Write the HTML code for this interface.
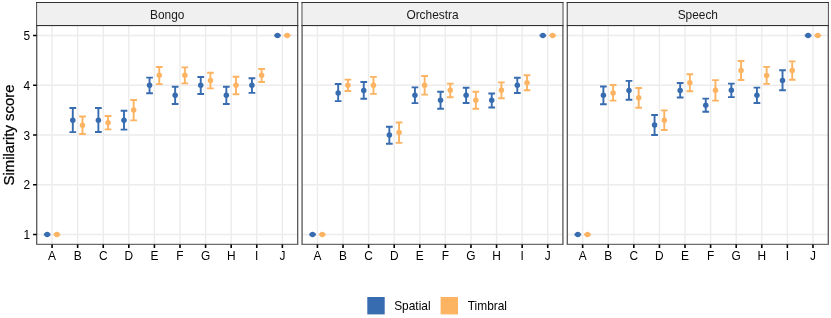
<!DOCTYPE html>
<html lang="en"><head><meta charset="utf-8"><title>Similarity score</title>
<style>html,body{margin:0;padding:0;background:#fff}body{width:831px;height:318px;overflow:hidden}svg{display:block}</style></head>
<body>
<svg width="831" height="318" viewBox="0 0 831 318" font-family="'Liberation Sans', Arial, Helvetica, sans-serif">
<rect width="831" height="318" fill="#fff"/>
<g>
<rect x="36.7" y="25.35" width="260.97" height="219.10" fill="#fff"/>
<path d="M36.7 234.55H297.67M36.7 184.80H297.67M36.7 135.05H297.67M36.7 85.30H297.67M36.7 35.55H297.67M52.05 25.35V244.45M77.64 25.35V244.45M103.23 25.35V244.45M128.82 25.35V244.45M154.41 25.35V244.45M180.00 25.35V244.45M205.59 25.35V244.45M231.18 25.35V244.45M256.77 25.35V244.45M282.36 25.35V244.45" stroke="#ECECEC" stroke-width="1.42" fill="none"/>
<path d="M43.85 234.55H50.55M43.85 234.55H50.55" stroke="#386CB0" stroke-width="1.9" fill="none"/>
<circle cx="47.20" cy="234.55" r="2.75" fill="#386CB0"/>
<path d="M53.55 234.55H60.25M53.55 234.55H60.25" stroke="#FDB462" stroke-width="1.9" fill="none"/>
<circle cx="56.90" cy="234.55" r="2.75" fill="#FDB462"/>
<path d="M69.44 107.95H76.14M69.44 132.15H76.14M72.79 107.95V132.15" stroke="#386CB0" stroke-width="1.9" fill="none"/>
<circle cx="72.79" cy="120.15" r="2.75" fill="#386CB0"/>
<path d="M79.14 116.45H85.84M79.14 134.05H85.84M82.49 116.45V134.05" stroke="#FDB462" stroke-width="1.9" fill="none"/>
<circle cx="82.49" cy="125.15" r="2.75" fill="#FDB462"/>
<path d="M95.03 108.05H101.73M95.03 131.95H101.73M98.38 108.05V131.95" stroke="#386CB0" stroke-width="1.9" fill="none"/>
<circle cx="98.38" cy="120.15" r="2.75" fill="#386CB0"/>
<path d="M104.73 116.05H111.43M104.73 129.35H111.43M108.08 116.05V129.35" stroke="#FDB462" stroke-width="1.9" fill="none"/>
<circle cx="108.08" cy="122.75" r="2.75" fill="#FDB462"/>
<path d="M120.62 110.75H127.32M120.62 129.65H127.32M123.97 110.75V129.65" stroke="#386CB0" stroke-width="1.9" fill="none"/>
<circle cx="123.97" cy="120.15" r="2.75" fill="#386CB0"/>
<path d="M130.32 99.95H137.02M130.32 120.40H137.02M133.67 99.95V120.40" stroke="#FDB462" stroke-width="1.9" fill="none"/>
<circle cx="133.67" cy="110.05" r="2.75" fill="#FDB462"/>
<path d="M146.21 77.65H152.91M146.21 93.20H152.91M149.56 77.65V93.20" stroke="#386CB0" stroke-width="1.9" fill="none"/>
<circle cx="149.56" cy="85.25" r="2.75" fill="#386CB0"/>
<path d="M155.91 66.95H162.61M155.91 84.15H162.61M159.26 66.95V84.15" stroke="#FDB462" stroke-width="1.9" fill="none"/>
<circle cx="159.26" cy="75.35" r="2.75" fill="#FDB462"/>
<path d="M171.80 86.80H178.50M171.80 103.95H178.50M175.15 86.80V103.95" stroke="#386CB0" stroke-width="1.9" fill="none"/>
<circle cx="175.15" cy="95.30" r="2.75" fill="#386CB0"/>
<path d="M181.50 67.35H188.20M181.50 83.35H188.20M184.85 67.35V83.35" stroke="#FDB462" stroke-width="1.9" fill="none"/>
<circle cx="184.85" cy="75.35" r="2.75" fill="#FDB462"/>
<path d="M197.39 77.05H204.09M197.39 93.95H204.09M200.74 77.05V93.95" stroke="#386CB0" stroke-width="1.9" fill="none"/>
<circle cx="200.74" cy="85.25" r="2.75" fill="#386CB0"/>
<path d="M207.09 72.75H213.79M207.09 88.35H213.79M210.44 72.75V88.35" stroke="#FDB462" stroke-width="1.9" fill="none"/>
<circle cx="210.44" cy="80.45" r="2.75" fill="#FDB462"/>
<path d="M222.98 86.80H229.68M222.98 103.95H229.68M226.33 86.80V103.95" stroke="#386CB0" stroke-width="1.9" fill="none"/>
<circle cx="226.33" cy="95.30" r="2.75" fill="#386CB0"/>
<path d="M232.68 76.75H239.38M232.68 94.25H239.38M236.03 76.75V94.25" stroke="#FDB462" stroke-width="1.9" fill="none"/>
<circle cx="236.03" cy="85.25" r="2.75" fill="#FDB462"/>
<path d="M248.57 78.25H255.27M248.57 92.85H255.27M251.92 78.25V92.85" stroke="#386CB0" stroke-width="1.9" fill="none"/>
<circle cx="251.92" cy="85.25" r="2.75" fill="#386CB0"/>
<path d="M258.27 68.95H264.97M258.27 82.05H264.97M261.62 68.95V82.05" stroke="#FDB462" stroke-width="1.9" fill="none"/>
<circle cx="261.62" cy="75.35" r="2.75" fill="#FDB462"/>
<path d="M274.16 35.55H280.86M274.16 35.55H280.86" stroke="#386CB0" stroke-width="1.9" fill="none"/>
<circle cx="277.51" cy="35.55" r="2.75" fill="#386CB0"/>
<path d="M283.86 35.55H290.56M283.86 35.55H290.56" stroke="#FDB462" stroke-width="1.9" fill="none"/>
<circle cx="287.21" cy="35.55" r="2.75" fill="#FDB462"/>
<path d="M36.7 2.0V244.45M297.67 244.45V2.0" fill="none" stroke="#585858" stroke-width="1.3"/>
<path d="M36.05 244.45H298.32" fill="none" stroke="#6c6c6c" stroke-width="1.3"/>
<rect x="37.35" y="3" width="259.67" height="22" fill="#F0F0F0"/>
<rect x="36.05" y="2" width="262.27" height="1" fill="#333"/>
<rect x="36.05" y="25" width="262.27" height="1.1" fill="#333"/>
<text x="167.19" y="19" font-size="11.9" text-anchor="middle" fill="#1a1a1a">Bongo</text>
<path d="M52.05 244.45v3.6M77.64 244.45v3.6M103.23 244.45v3.6M128.82 244.45v3.6M154.41 244.45v3.6M180.00 244.45v3.6M205.59 244.45v3.6M231.18 244.45v3.6M256.77 244.45v3.6M282.36 244.45v3.6" stroke="#000" stroke-width="1.6" fill="none"/>
<text x="52.05" y="259.6" font-size="11.9" text-anchor="middle" fill="#000">A</text>
<text x="77.64" y="259.6" font-size="11.9" text-anchor="middle" fill="#000">B</text>
<text x="103.23" y="259.6" font-size="11.9" text-anchor="middle" fill="#000">C</text>
<text x="128.82" y="259.6" font-size="11.9" text-anchor="middle" fill="#000">D</text>
<text x="154.41" y="259.6" font-size="11.9" text-anchor="middle" fill="#000">E</text>
<text x="180.00" y="259.6" font-size="11.9" text-anchor="middle" fill="#000">F</text>
<text x="205.59" y="259.6" font-size="11.9" text-anchor="middle" fill="#000">G</text>
<text x="231.18" y="259.6" font-size="11.9" text-anchor="middle" fill="#000">H</text>
<text x="256.77" y="259.6" font-size="11.9" text-anchor="middle" fill="#000">I</text>
<text x="282.36" y="259.6" font-size="11.9" text-anchor="middle" fill="#000">J</text>
</g>
<g>
<rect x="302.08" y="25.35" width="260.84" height="219.10" fill="#fff"/>
<path d="M302.08 234.55H562.92M302.08 184.80H562.92M302.08 135.05H562.92M302.08 85.30H562.92M302.08 35.55H562.92M317.43 25.35V244.45M343.02 25.35V244.45M368.61 25.35V244.45M394.20 25.35V244.45M419.79 25.35V244.45M445.38 25.35V244.45M470.97 25.35V244.45M496.56 25.35V244.45M522.15 25.35V244.45M547.74 25.35V244.45" stroke="#ECECEC" stroke-width="1.42" fill="none"/>
<path d="M309.23 234.55H315.93M309.23 234.55H315.93" stroke="#386CB0" stroke-width="1.9" fill="none"/>
<circle cx="312.58" cy="234.55" r="2.75" fill="#386CB0"/>
<path d="M318.93 234.55H325.63M318.93 234.55H325.63" stroke="#FDB462" stroke-width="1.9" fill="none"/>
<circle cx="322.28" cy="234.55" r="2.75" fill="#FDB462"/>
<path d="M334.82 84.05H341.52M334.82 101.15H341.52M338.17 84.05V101.15" stroke="#386CB0" stroke-width="1.9" fill="none"/>
<circle cx="338.17" cy="92.90" r="2.75" fill="#386CB0"/>
<path d="M344.52 79.65H351.22M344.52 91.05H351.22M347.87 79.65V91.05" stroke="#FDB462" stroke-width="1.9" fill="none"/>
<circle cx="347.87" cy="85.35" r="2.75" fill="#FDB462"/>
<path d="M360.41 81.95H367.11M360.41 98.80H367.11M363.76 81.95V98.80" stroke="#386CB0" stroke-width="1.9" fill="none"/>
<circle cx="363.76" cy="90.40" r="2.75" fill="#386CB0"/>
<path d="M370.11 76.85H376.81M370.11 93.90H376.81M373.46 76.85V93.90" stroke="#FDB462" stroke-width="1.9" fill="none"/>
<circle cx="373.46" cy="85.35" r="2.75" fill="#FDB462"/>
<path d="M386.00 126.75H392.70M386.00 143.75H392.70M389.35 126.75V143.75" stroke="#386CB0" stroke-width="1.9" fill="none"/>
<circle cx="389.35" cy="135.05" r="2.75" fill="#386CB0"/>
<path d="M395.70 122.45H402.40M395.70 142.85H402.40M399.05 122.45V142.85" stroke="#FDB462" stroke-width="1.9" fill="none"/>
<circle cx="399.05" cy="132.55" r="2.75" fill="#FDB462"/>
<path d="M411.59 87.35H418.29M411.59 103.15H418.29M414.94 87.35V103.15" stroke="#386CB0" stroke-width="1.9" fill="none"/>
<circle cx="414.94" cy="95.35" r="2.75" fill="#386CB0"/>
<path d="M421.29 75.95H427.99M421.29 94.65H427.99M424.64 75.95V94.65" stroke="#FDB462" stroke-width="1.9" fill="none"/>
<circle cx="424.64" cy="85.30" r="2.75" fill="#FDB462"/>
<path d="M437.18 91.75H443.88M437.18 108.75H443.88M440.53 91.75V108.75" stroke="#386CB0" stroke-width="1.9" fill="none"/>
<circle cx="440.53" cy="100.25" r="2.75" fill="#386CB0"/>
<path d="M446.88 83.65H453.58M446.88 97.30H453.58M450.23 83.65V97.30" stroke="#FDB462" stroke-width="1.9" fill="none"/>
<circle cx="450.23" cy="90.35" r="2.75" fill="#FDB462"/>
<path d="M462.77 87.70H469.47M462.77 103.00H469.47M466.12 87.70V103.00" stroke="#386CB0" stroke-width="1.9" fill="none"/>
<circle cx="466.12" cy="95.30" r="2.75" fill="#386CB0"/>
<path d="M472.47 91.75H479.17M472.47 108.75H479.17M475.82 91.75V108.75" stroke="#FDB462" stroke-width="1.9" fill="none"/>
<circle cx="475.82" cy="100.25" r="2.75" fill="#FDB462"/>
<path d="M488.36 93.50H495.06M488.36 107.45H495.06M491.71 93.50V107.45" stroke="#386CB0" stroke-width="1.9" fill="none"/>
<circle cx="491.71" cy="100.25" r="2.75" fill="#386CB0"/>
<path d="M498.06 82.35H504.76M498.06 98.20H504.76M501.41 82.35V98.20" stroke="#FDB462" stroke-width="1.9" fill="none"/>
<circle cx="501.41" cy="90.35" r="2.75" fill="#FDB462"/>
<path d="M513.95 77.75H520.65M513.95 93.05H520.65M517.30 77.75V93.05" stroke="#386CB0" stroke-width="1.9" fill="none"/>
<circle cx="517.30" cy="85.30" r="2.75" fill="#386CB0"/>
<path d="M523.65 75.25H530.35M523.65 90.20H530.35M527.00 75.25V90.20" stroke="#FDB462" stroke-width="1.9" fill="none"/>
<circle cx="527.00" cy="82.85" r="2.75" fill="#FDB462"/>
<path d="M539.54 35.55H546.24M539.54 35.55H546.24" stroke="#386CB0" stroke-width="1.9" fill="none"/>
<circle cx="542.89" cy="35.55" r="2.75" fill="#386CB0"/>
<path d="M549.24 35.55H555.94M549.24 35.55H555.94" stroke="#FDB462" stroke-width="1.9" fill="none"/>
<circle cx="552.59" cy="35.55" r="2.75" fill="#FDB462"/>
<path d="M302.08 2.0V244.45M562.92 244.45V2.0" fill="none" stroke="#585858" stroke-width="1.3"/>
<path d="M301.43 244.45H563.57" fill="none" stroke="#6c6c6c" stroke-width="1.3"/>
<rect x="302.73" y="3" width="259.54" height="22" fill="#F0F0F0"/>
<rect x="301.43" y="2" width="262.14" height="1" fill="#333"/>
<rect x="301.43" y="25" width="262.14" height="1.1" fill="#333"/>
<text x="432.50" y="19" font-size="11.9" text-anchor="middle" fill="#1a1a1a">Orchestra</text>
<path d="M317.43 244.45v3.6M343.02 244.45v3.6M368.61 244.45v3.6M394.20 244.45v3.6M419.79 244.45v3.6M445.38 244.45v3.6M470.97 244.45v3.6M496.56 244.45v3.6M522.15 244.45v3.6M547.74 244.45v3.6" stroke="#000" stroke-width="1.6" fill="none"/>
<text x="317.43" y="259.6" font-size="11.9" text-anchor="middle" fill="#000">A</text>
<text x="343.02" y="259.6" font-size="11.9" text-anchor="middle" fill="#000">B</text>
<text x="368.61" y="259.6" font-size="11.9" text-anchor="middle" fill="#000">C</text>
<text x="394.20" y="259.6" font-size="11.9" text-anchor="middle" fill="#000">D</text>
<text x="419.79" y="259.6" font-size="11.9" text-anchor="middle" fill="#000">E</text>
<text x="445.38" y="259.6" font-size="11.9" text-anchor="middle" fill="#000">F</text>
<text x="470.97" y="259.6" font-size="11.9" text-anchor="middle" fill="#000">G</text>
<text x="496.56" y="259.6" font-size="11.9" text-anchor="middle" fill="#000">H</text>
<text x="522.15" y="259.6" font-size="11.9" text-anchor="middle" fill="#000">I</text>
<text x="547.74" y="259.6" font-size="11.9" text-anchor="middle" fill="#000">J</text>
</g>
<g>
<rect x="567.3" y="25.35" width="261.00" height="219.10" fill="#fff"/>
<path d="M567.3 234.55H828.3M567.3 184.80H828.3M567.3 135.05H828.3M567.3 85.30H828.3M567.3 35.55H828.3M582.65 25.35V244.45M608.24 25.35V244.45M633.83 25.35V244.45M659.42 25.35V244.45M685.01 25.35V244.45M710.60 25.35V244.45M736.19 25.35V244.45M761.78 25.35V244.45M787.37 25.35V244.45M812.96 25.35V244.45" stroke="#ECECEC" stroke-width="1.42" fill="none"/>
<path d="M574.45 234.55H581.15M574.45 234.55H581.15" stroke="#386CB0" stroke-width="1.9" fill="none"/>
<circle cx="577.80" cy="234.55" r="2.75" fill="#386CB0"/>
<path d="M584.15 234.55H590.85M584.15 234.55H590.85" stroke="#FDB462" stroke-width="1.9" fill="none"/>
<circle cx="587.50" cy="234.55" r="2.75" fill="#FDB462"/>
<path d="M600.04 86.45H606.74M600.04 104.20H606.74M603.39 86.45V104.20" stroke="#386CB0" stroke-width="1.9" fill="none"/>
<circle cx="603.39" cy="95.30" r="2.75" fill="#386CB0"/>
<path d="M609.74 85.05H616.44M609.74 100.65H616.44M613.09 85.05V100.65" stroke="#FDB462" stroke-width="1.9" fill="none"/>
<circle cx="613.09" cy="92.90" r="2.75" fill="#FDB462"/>
<path d="M625.63 80.85H632.33M625.63 99.70H632.33M628.98 80.85V99.70" stroke="#386CB0" stroke-width="1.9" fill="none"/>
<circle cx="628.98" cy="90.40" r="2.75" fill="#386CB0"/>
<path d="M635.33 88.05H642.03M635.33 107.75H642.03M638.68 88.05V107.75" stroke="#FDB462" stroke-width="1.9" fill="none"/>
<circle cx="638.68" cy="97.80" r="2.75" fill="#FDB462"/>
<path d="M651.22 114.95H657.92M651.22 135.05H657.92M654.57 114.95V135.05" stroke="#386CB0" stroke-width="1.9" fill="none"/>
<circle cx="654.57" cy="125.05" r="2.75" fill="#386CB0"/>
<path d="M660.92 110.40H667.62M660.92 129.95H667.62M664.27 110.40V129.95" stroke="#FDB462" stroke-width="1.9" fill="none"/>
<circle cx="664.27" cy="120.15" r="2.75" fill="#FDB462"/>
<path d="M676.81 83.05H683.51M676.81 97.55H683.51M680.16 83.05V97.55" stroke="#386CB0" stroke-width="1.9" fill="none"/>
<circle cx="680.16" cy="90.40" r="2.75" fill="#386CB0"/>
<path d="M686.51 74.30H693.21M686.51 91.30H693.21M689.86 74.30V91.30" stroke="#FDB462" stroke-width="1.9" fill="none"/>
<circle cx="689.86" cy="82.80" r="2.75" fill="#FDB462"/>
<path d="M702.40 98.65H709.10M702.40 111.75H709.10M705.75 98.65V111.75" stroke="#386CB0" stroke-width="1.9" fill="none"/>
<circle cx="705.75" cy="105.35" r="2.75" fill="#386CB0"/>
<path d="M712.10 80.10H718.80M712.10 100.65H718.80M715.45 80.10V100.65" stroke="#FDB462" stroke-width="1.9" fill="none"/>
<circle cx="715.45" cy="90.25" r="2.75" fill="#FDB462"/>
<path d="M727.99 83.60H734.69M727.99 97.15H734.69M731.34 83.60V97.15" stroke="#386CB0" stroke-width="1.9" fill="none"/>
<circle cx="731.34" cy="90.25" r="2.75" fill="#386CB0"/>
<path d="M737.69 61.00H744.39M737.69 79.95H744.39M741.04 61.00V79.95" stroke="#FDB462" stroke-width="1.9" fill="none"/>
<circle cx="741.04" cy="70.55" r="2.75" fill="#FDB462"/>
<path d="M753.58 87.65H760.28M753.58 103.05H760.28M756.93 87.65V103.05" stroke="#386CB0" stroke-width="1.9" fill="none"/>
<circle cx="756.93" cy="95.25" r="2.75" fill="#386CB0"/>
<path d="M763.28 66.85H769.98M763.28 83.90H769.98M766.63 66.85V83.90" stroke="#FDB462" stroke-width="1.9" fill="none"/>
<circle cx="766.63" cy="75.55" r="2.75" fill="#FDB462"/>
<path d="M779.17 70.25H785.87M779.17 90.25H785.87M782.52 70.25V90.25" stroke="#386CB0" stroke-width="1.9" fill="none"/>
<circle cx="782.52" cy="80.40" r="2.75" fill="#386CB0"/>
<path d="M788.87 61.35H795.57M788.87 79.75H795.57M792.22 61.35V79.75" stroke="#FDB462" stroke-width="1.9" fill="none"/>
<circle cx="792.22" cy="70.55" r="2.75" fill="#FDB462"/>
<path d="M804.76 35.55H811.46M804.76 35.55H811.46" stroke="#386CB0" stroke-width="1.9" fill="none"/>
<circle cx="808.11" cy="35.55" r="2.75" fill="#386CB0"/>
<path d="M814.46 35.55H821.16M814.46 35.55H821.16" stroke="#FDB462" stroke-width="1.9" fill="none"/>
<circle cx="817.81" cy="35.55" r="2.75" fill="#FDB462"/>
<path d="M567.3 2.0V244.45M828.3 244.45V2.0" fill="none" stroke="#585858" stroke-width="1.3"/>
<path d="M566.65 244.45H828.95" fill="none" stroke="#6c6c6c" stroke-width="1.3"/>
<rect x="567.95" y="3" width="259.70" height="22" fill="#F0F0F0"/>
<rect x="566.65" y="2" width="262.30" height="1" fill="#333"/>
<rect x="566.65" y="25" width="262.30" height="1.1" fill="#333"/>
<text x="697.80" y="19" font-size="11.9" text-anchor="middle" fill="#1a1a1a">Speech</text>
<path d="M582.65 244.45v3.6M608.24 244.45v3.6M633.83 244.45v3.6M659.42 244.45v3.6M685.01 244.45v3.6M710.60 244.45v3.6M736.19 244.45v3.6M761.78 244.45v3.6M787.37 244.45v3.6M812.96 244.45v3.6" stroke="#000" stroke-width="1.6" fill="none"/>
<text x="582.65" y="259.6" font-size="11.9" text-anchor="middle" fill="#000">A</text>
<text x="608.24" y="259.6" font-size="11.9" text-anchor="middle" fill="#000">B</text>
<text x="633.83" y="259.6" font-size="11.9" text-anchor="middle" fill="#000">C</text>
<text x="659.42" y="259.6" font-size="11.9" text-anchor="middle" fill="#000">D</text>
<text x="685.01" y="259.6" font-size="11.9" text-anchor="middle" fill="#000">E</text>
<text x="710.60" y="259.6" font-size="11.9" text-anchor="middle" fill="#000">F</text>
<text x="736.19" y="259.6" font-size="11.9" text-anchor="middle" fill="#000">G</text>
<text x="761.78" y="259.6" font-size="11.9" text-anchor="middle" fill="#000">H</text>
<text x="787.37" y="259.6" font-size="11.9" text-anchor="middle" fill="#000">I</text>
<text x="812.96" y="259.6" font-size="11.9" text-anchor="middle" fill="#000">J</text>
</g>
<path d="M36.7 234.55h-3.65M36.7 184.80h-3.65M36.7 135.05h-3.65M36.7 85.30h-3.65M36.7 35.55h-3.65" stroke="#000" stroke-width="1.6" fill="none"/>
<text x="30.1" y="239" font-size="11.9" text-anchor="end" fill="#000">1</text>
<text x="30.1" y="189" font-size="11.9" text-anchor="end" fill="#000">2</text>
<text x="30.1" y="140" font-size="11.9" text-anchor="end" fill="#000">3</text>
<text x="30.1" y="90" font-size="11.9" text-anchor="end" fill="#000">4</text>
<text x="30.1" y="40" font-size="11.9" text-anchor="end" fill="#000">5</text>
<text transform="translate(13.5 135) rotate(-90)" font-size="14.9" text-anchor="middle" fill="#000" stroke="#000" stroke-width="0.25">Similarity score</text>
<rect x="367.3" y="297" width="17.4" height="17.4" fill="#386CB0"/>
<text x="394.2" y="309.8" font-size="11.9" fill="#000">Spatial</text>
<rect x="440.6" y="297" width="17.4" height="17.4" fill="#FDB462"/>
<text x="467.8" y="309.8" font-size="11.9" fill="#000">Timbral</text>
</svg>
</body></html>
